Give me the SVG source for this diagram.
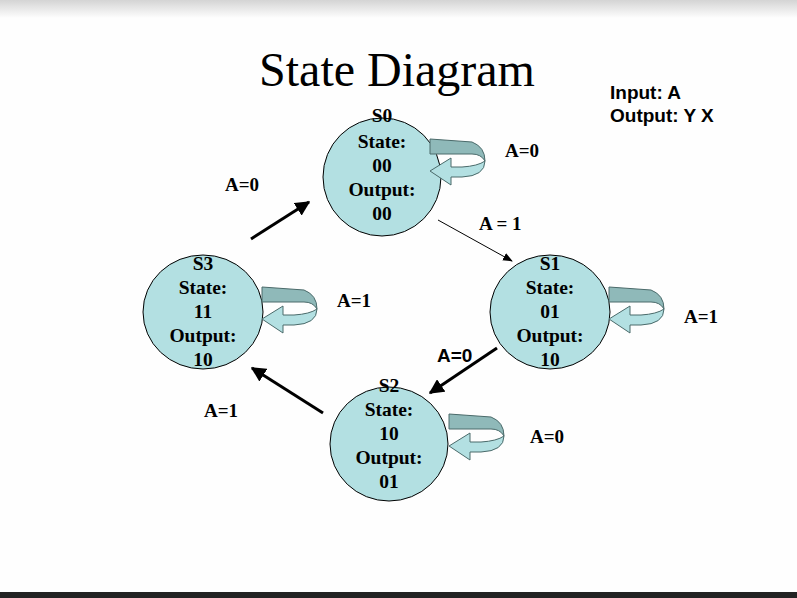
<svg xmlns="http://www.w3.org/2000/svg" width="797" height="598" viewBox="0 0 797 598">
<defs>
<linearGradient id="tg" x1="0" y1="0" x2="0" y2="1"><stop offset="0" stop-color="#d4d4d4"/><stop offset="1" stop-color="#fefefe"/></linearGradient>
<marker id="ah" viewBox="0 0 10 10" refX="9" refY="5" markerWidth="5" markerHeight="5" orient="auto"><path d="M0,0 L10,5 L0,10 Z" fill="#000"/></marker>
<marker id="ahs" viewBox="0 0 10 10" refX="9" refY="5" markerWidth="10" markerHeight="10" markerUnits="userSpaceOnUse" orient="auto"><path d="M0,1 L10,5 L0,9 Z" fill="#000"/></marker>
<g id="loop">
<path d="M0,0 L42,3 Q55,8 55,22 Q51,15 42,15 L0,15 Z" fill="#8fb9b9" stroke="#4a6a6a" stroke-width="1"/>
<path d="M55,22 Q55,37 32,38 L21,38 L21,46 L0,32 L21,19 L21,28 L32,28 Q48,27 55,22 Z" fill="#b3e0e2" stroke="#4a6a6a" stroke-width="1"/>
</g>
</defs>
<style>
.n{fill:#b3e0e2;stroke:#000;stroke-width:1}
.t{font-family:"Liberation Serif",serif;font-weight:bold;font-size:19.5px;text-anchor:middle}
.l{font-family:"Liberation Serif",serif;font-weight:bold;font-size:19px}
.a{font-family:"Liberation Sans",sans-serif;font-weight:bold;font-size:19px}
</style>
<rect width="797" height="598" fill="#fefefe"/>
<rect width="797" height="18" fill="url(#tg)"/>
<rect y="592" width="797" height="6" fill="#222"/>
<text x="397" y="86" font-family="Liberation Serif,serif" font-size="48" text-anchor="middle">State Diagram</text>
<text x="610" y="99" class="a">Input: A</text>
<text x="610" y="122" class="a">Output: Y X</text>
<g id="connectors">
<line x1="251" y1="239" x2="309" y2="202" stroke="#000" stroke-width="3" marker-end="url(#ah)"/>
<line x1="438" y1="220" x2="512" y2="261" stroke="#000" stroke-width="1" marker-end="url(#ahs)"/>
<line x1="497" y1="348" x2="430" y2="393" stroke="#000" stroke-width="3" marker-end="url(#ah)"/>
<line x1="323" y1="413" x2="252" y2="368" stroke="#000" stroke-width="3" marker-end="url(#ah)"/>
<text x="225" y="191" class="l">A=0</text>
<text x="505" y="157" class="l">A=0</text>
<text x="479" y="230" class="l">A = 1</text>
<text x="337" y="307" class="l">A=1</text>
<text x="684" y="323" class="l">A=1</text>
<text x="437" y="362" class="a">A=0</text>
<text x="204" y="417" class="l">A=1</text>
<text x="530" y="443" class="l">A=0</text>
</g>
<g id="S0"><ellipse class="n" cx="382" cy="177" rx="59" ry="59"/>
<text class="t" x="382" y="122">S0</text><text class="t" x="382" y="148">State:</text><text class="t" x="382" y="172">00</text><text class="t" x="382" y="196">Output:</text><text class="t" x="382" y="220">00</text><use href="#loop" x="430" y="139"/></g>
<g id="S1"><ellipse class="n" cx="550" cy="312" rx="60" ry="57"/>
<text class="t" x="550" y="270">S1</text><text class="t" x="550" y="294">State:</text><text class="t" x="550" y="318">01</text><text class="t" x="550" y="342">Output:</text><text class="t" x="550" y="366">10</text><use href="#loop" x="609" y="287"/></g>
<g id="S3"><ellipse class="n" cx="203" cy="312" rx="60" ry="57"/>
<text class="t" x="203" y="270">S3</text><text class="t" x="203" y="294">State:</text><text class="t" x="203" y="318">11</text><text class="t" x="203" y="342">Output:</text><text class="t" x="203" y="366">10</text><use href="#loop" x="262" y="287"/></g>
<g id="S2"><ellipse class="n" cx="389" cy="444" rx="59" ry="57"/>
<text class="t" x="389" y="392">S2</text><text class="t" x="389" y="416">State:</text><text class="t" x="389" y="440">10</text><text class="t" x="389" y="464">Output:</text><text class="t" x="389" y="488">01</text><use href="#loop" x="449" y="414"/></g>
</svg>
